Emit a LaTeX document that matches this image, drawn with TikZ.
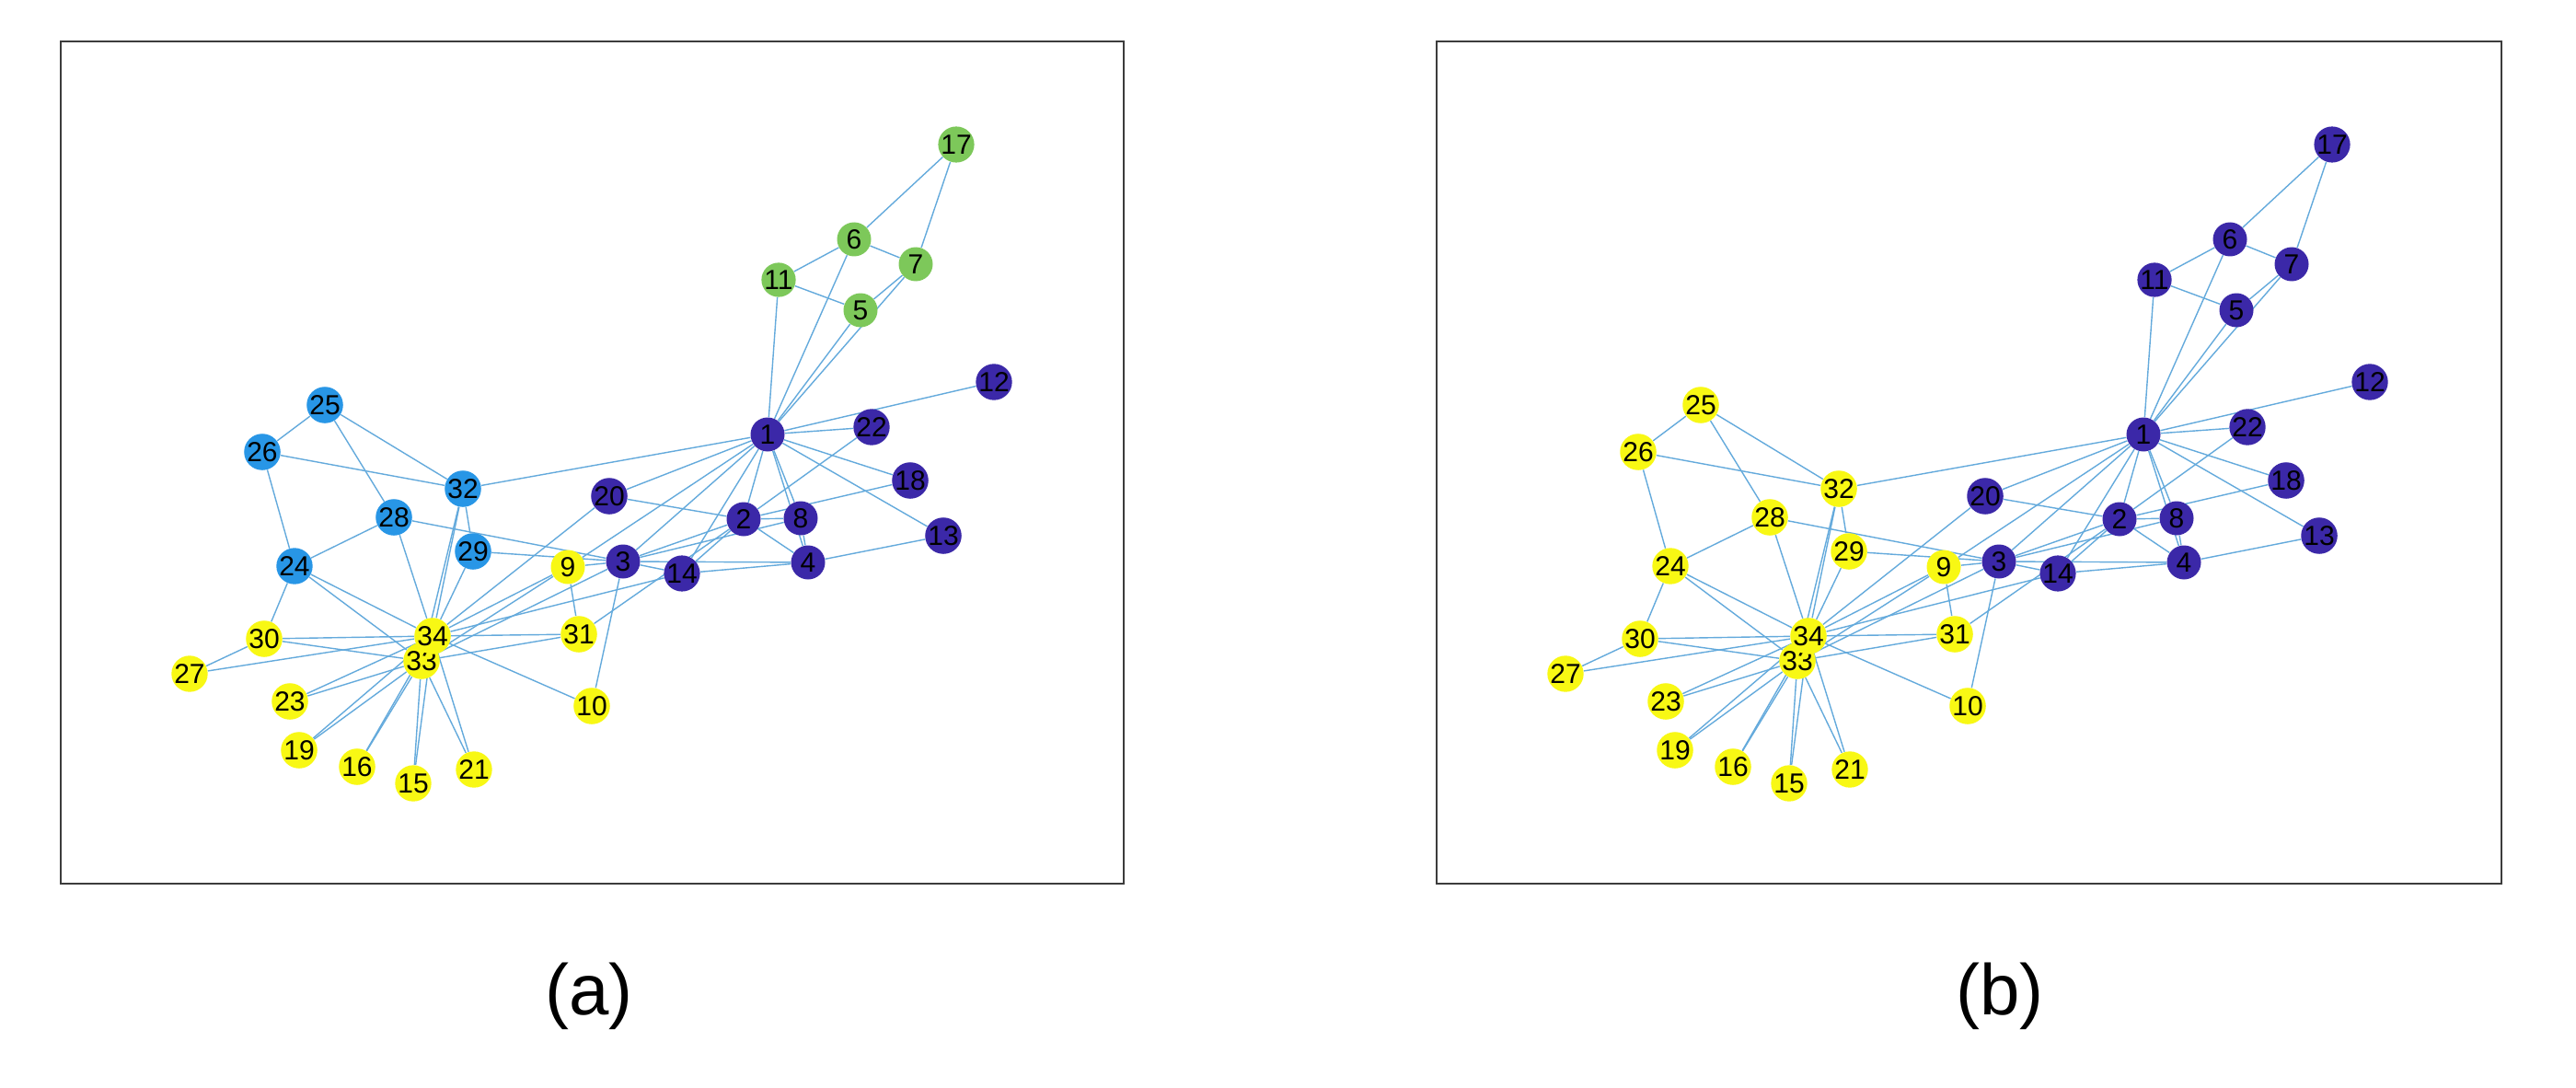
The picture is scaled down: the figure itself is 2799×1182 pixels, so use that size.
\documentclass[tikz,border=0pt]{standalone}
\usepackage{fontspec}
\setmainfont{Liberation Sans}
\definecolor{kpurple}{RGB}{59,40,168}
\definecolor{kgreen}{RGB}{125,200,90}
\definecolor{kblue}{RGB}{40,150,230}
\definecolor{kyellow}{RGB}{248,248,20}
\definecolor{kedge}{RGB}{100,170,220}
\definecolor{kframe}{RGB}{60,60,60}
\pgfdeclarelayer{bg}
\pgfsetlayers{bg,main}
\begin{document}
\begin{tikzpicture}[x=0.5pt,y=-0.5pt,
  vert/.style={circle,inner sep=0pt,minimum size=18.5pt,font=\fontsize{15}{15}\selectfont,text=black},
  edge/.style={draw=kedge,line width=0.7pt},
  panelframe/.style={draw=kframe,line width=1pt},
  captext/.style={font=\fontsize{39}{39}\selectfont,text=black}]
\useasboundingbox (0,0) rectangle (2799,1182);
\begin{pgfonlayer}{bg}
\fill[white] (0,0) rectangle (2799,1182);
\end{pgfonlayer}
\def\nodelist{1/834/472/kpurple/kpurple, 2/808/564/kpurple/kpurple, 3/677/610/kpurple/kpurple,
 4/878/611/kpurple/kpurple, 5/935/337/kgreen/kpurple, 6/928/260/kgreen/kpurple,
 7/995/287/kgreen/kpurple, 8/870/563/kpurple/kpurple, 9/617/616/kyellow/kyellow,
 10/643/767/kyellow/kyellow, 11/846/304/kgreen/kpurple, 12/1080/415/kpurple/kpurple,
 13/1025/582/kpurple/kpurple, 14/741/623/kpurple/kpurple, 15/449/851/kyellow/kyellow,
 16/388/833/kyellow/kyellow, 17/1039/157/kgreen/kpurple, 18/989/522/kpurple/kpurple,
 19/325/815/kyellow/kyellow, 20/662/539/kpurple/kpurple, 21/515/836/kyellow/kyellow,
 22/947/464/kpurple/kpurple, 23/315/762/kyellow/kyellow, 24/320/615/kblue/kyellow,
 25/353/440/kblue/kyellow, 26/285/491/kblue/kyellow, 27/206/732/kyellow/kyellow,
 28/428/562/kblue/kyellow, 29/514/599/kblue/kyellow, 30/287/694/kyellow/kyellow,
 31/629/689/kyellow/kyellow, 32/503/531/kblue/kyellow, 33/458/718/kyellow/kyellow,
 34/470/691/kyellow/kyellow}
% frames
\draw[panelframe] (66,45) rectangle (1221,960);
\draw[panelframe] (1561,45) rectangle (2718,960);
% vertices
\foreach \n/\x/\y/\ca/\cb in \nodelist {
  \node[vert,fill=\ca] (a\n) at (\x,\y) {\n};
  \node[vert,fill=\cb] (b\n) at (\x+1495,\y) {\n};
}
% edges
\begin{pgfonlayer}{bg}
\foreach \i/\j in {1/2,1/3,1/4,1/5,1/6,1/7,1/8,1/9,1/11,1/12,1/13,1/14,1/18,1/20,1/22,1/32,
  2/3,2/4,2/8,2/14,2/18,2/20,2/22,2/31,
  3/4,3/8,3/9,3/10,3/14,3/28,3/29,3/33,
  4/8,4/13,4/14,5/7,5/11,6/7,6/11,6/17,7/17,
  9/31,9/33,9/34,10/34,14/34,15/33,15/34,16/33,16/34,19/33,19/34,20/34,21/33,21/34,
  23/33,23/34,24/26,24/28,24/30,24/33,24/34,25/26,25/28,25/32,26/32,27/30,27/34,
  28/34,29/32,29/34,30/33,30/34,31/33,31/34,32/33,32/34,33/34} {
  \draw[edge] (a\i) -- (a\j);
  \draw[edge] (b\i) -- (b\j);
}
\end{pgfonlayer}
% captions
\node[captext] (capa) at (640,1082) {(a)};
\node[captext] (capb) at (2173,1082) {(b)};
\end{tikzpicture}
\end{document}
